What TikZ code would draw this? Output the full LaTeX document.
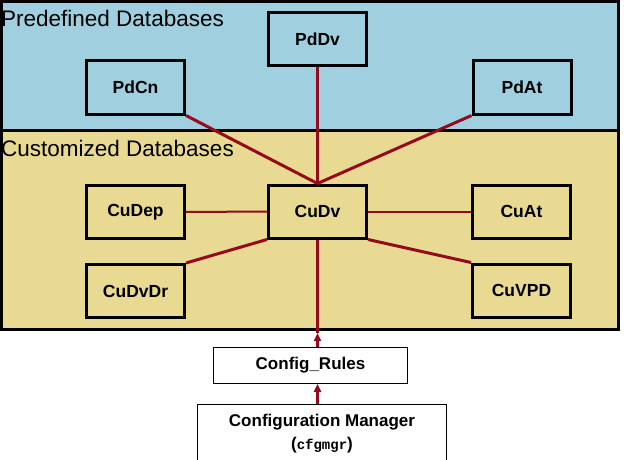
\documentclass[tikz,border=0pt]{standalone}
\usepackage{fontspec}
\setmainfont{Liberation Sans}
\setsansfont{Liberation Sans}
\setmonofont{Liberation Mono}
\usepackage{xcolor}
\usepackage{tikz}
\usetikzlibrary{arrows.meta}
\definecolor{pdblue}{RGB}{160,208,224}
\definecolor{cuyellow}{RGB}{232,218,146}
\definecolor{linkred}{RGB}{150,10,30}

\begin{document}
\begin{tikzpicture}[x=1pt, y=-1pt,
    dbbox/.style={draw, line width=3pt, minimum width=98pt, minimum height=53pt, inner sep=0pt,
      font=\fontsize{17.5}{20}\selectfont\bfseries},
    cfgbox/.style={draw, fill=white, line width=0.8pt, inner sep=0pt, align=center,
      font=\fontsize{17}{23}\selectfont\bfseries},
    areatitle/.style={anchor=base west, inner sep=0pt, font=\fontsize{22.5}{26}\selectfont},
    link/.style={draw=linkred, line width=3pt},
    thinlink/.style={draw=linkred, line width=2pt},
    tip/.style={-{Triangle[length=8pt, width=7pt]}}]
      \useasboundingbox (0,0) rectangle (627,460);
      \fill[pdblue] (1.5,1.5) rectangle (618.5,130);
      \fill[cuyellow] (1.5,130) rectangle (618.5,329);
      \draw[line width=3pt] (1.5,1.5) rectangle (618.5,329);
      \draw[line width=3pt] (1.5,130) -- (618.5,130);
      \node[areatitle] (pdtitle) at (1,27) {Predefined Databases};
      \node[areatitle] (cutitle) at (1,157) {Customized Databases};
      \node[dbbox] (pddv) at (317.5,39) {PdDv};
      \node[dbbox] (pdcn) at (135.5,87.5) {PdCn};
      \node[dbbox] (pdat) at (522,87.5) {PdAt};
      \node[dbbox] (cudv) at (317.5,211.5) {CuDv};
      \node[dbbox] (cudep) at (135.5,212) {CuDep};
      \node[dbbox] (cuat) at (521.5,211.5) {CuAt};
      \node[dbbox] (cudvdr) at (135.5,291) {CuDvDr};
      \node[dbbox] (cuvpd) at (521.5,290.5) {CuVPD};
      \node[cfgbox, minimum width=194pt, minimum height=36pt] (rules) at (310.5,365.5) {Config\_Rules};
      \node[cfgbox, minimum width=249pt, minimum height=60pt] (mgr) at (322,434)
        {Configuration Manager\\({\fontsize{14}{16}\selectfont\texttt{cfgmgr}})};
      \coordinate (edge) at (317.5,333);
      \draw[link] (pdcn.south east) -- (cudv.north);
      \draw[link] (pddv.south) -- (cudv.north);
      \draw[link] (pdat.south west) -- (cudv.north);
      \draw[thinlink] (cudep.east) -- (cudv.west);
      \draw[thinlink] (cudv.east) -- (cuat.west);
      \draw[link] (cudv.south west) -- (cudvdr.north east);
      \draw[link] (cudv.south east) -- (cuvpd.north west);
      \draw[link] (cudv.south) -- (edge);
      \draw[link, tip] (cudv.south |- rules.north) -- (edge);
      \draw[link, tip] (cudv.south |- mgr.north) -- (cudv.south |- rules.south);
    \end{tikzpicture}
\end{document}
